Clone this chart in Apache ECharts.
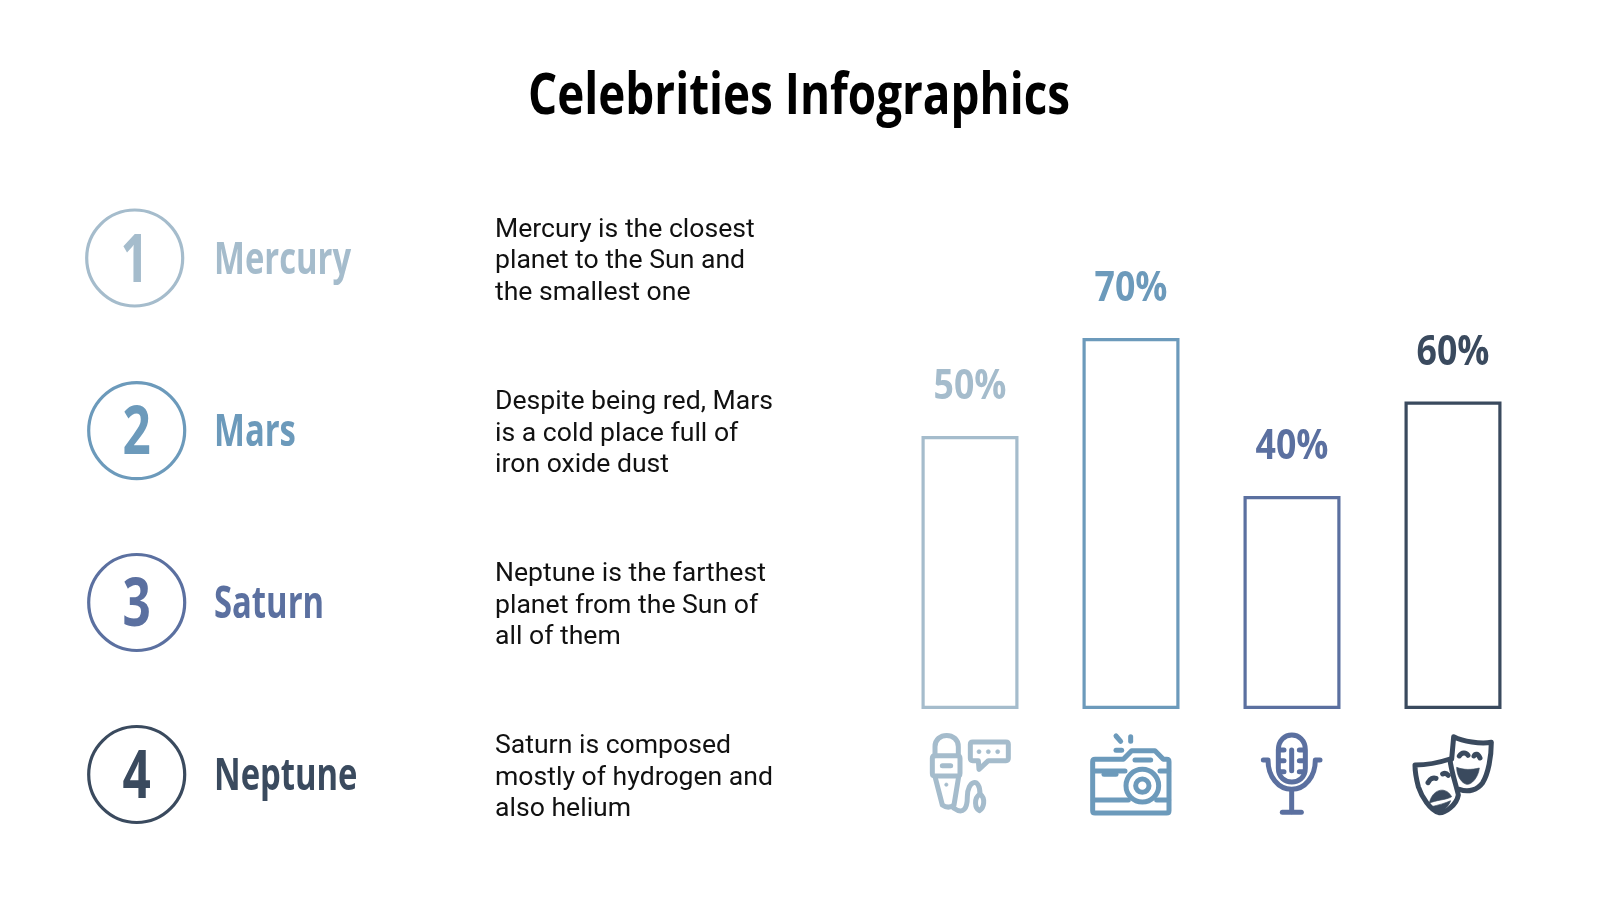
<!DOCTYPE html>
<html>
<head>
<meta charset="utf-8">
<title>Celebrities Infographics</title>
<style>
html,body{margin:0;padding:0;background:#fff;}
#chart{width:1600px;height:900px;}
</style>
<script src="https://cdn.jsdelivr.net/npm/echarts@6/dist/echarts.min.js"></script>
</head>
<body>
<div id="chart"></div>
<script>
var titleText = 'Celebrities Infographics';
var planets = ['Mercury', 'Mars', 'Saturn', 'Neptune'];
var numbers = ['1', '2', '3', '4'];
var descriptions = [
	['Mercury is the closest', 'planet to the Sun and', 'the smallest one'],
	['Despite being red, Mars', 'is a cold place full of', 'iron oxide dust'],
	['Neptune is the farthest', 'planet from the Sun of', 'all of them'],
	['Saturn is composed', 'mostly of hydrogen and', 'also helium']
];
var barCategories = ['Microphone', 'Camera', 'Studio mic', 'Masks'];
var barValues = [51.5, 70, 40.2, 58];   //drawn height, the picture does not follow its labels exactly
var barLabels = ['50%', '70%', '40%', '60%'];
var colors = ['#A5BCCC', '#6C9ABB', '#5B70A0', '#3A4A5E'];

//no extra condensed font here, so a bold face gets squeezed with scaleX
var heading = '"Open Sans", sans-serif';
var myChart = echarts.init(document.getElementById('chart'));

var graphics = [];

graphics.push({
	type: 'text', x: 799, y: 97, scaleX: 0.79,
	style: {text: titleText, fill: '#000', font: 'bold 58px ' + heading, textAlign: 'center', textVerticalAlign: 'middle'}
});

//left rows: circle, number, name, text
var circleX = [134.7, 136.7, 136.7, 136.7];
var circleY = [258, 430.6, 602.5, 774.5];
for (var i = 0; i < planets.length; i++) {
	graphics.push({
		type: 'circle',
		shape: {cx: circleX[i], cy: circleY[i], r: 48},
		style: {fill: 'none', stroke: colors[i], lineWidth: 3.2}
	});
	graphics.push({
		type: 'text', x: circleX[i], y: circleY[i] + 5, scaleX: 0.75,
		style: {text: numbers[i], fill: colors[i], font: 'bold 66px ' + heading, textAlign: 'center', textVerticalAlign: 'middle'}
	});
	graphics.push({
		type: 'text', x: 214, y: circleY[i] + 3, scaleX: 0.745,
		style: {text: planets[i], fill: colors[i], font: 'bold 44px ' + heading, textAlign: 'left', textVerticalAlign: 'middle'}
	});
	for (var j = 0; j < 3; j++) {
		graphics.push({
			type: 'text', x: 495, y: circleY[i] - 28 + j * 31.6,
			style: {text: descriptions[i][j], fill: '#111', font: '26.6px Roboto', textAlign: 'left', textVerticalAlign: 'middle'}
		});
	}
}

//icons, coordinates are 3x so they are scaled down in the group
var shapeCount = 0;
function pathShape(d) {
	var name = 'iconPath' + (shapeCount++);
	echarts.graphic.registerShape(name, echarts.graphic.extendPath(d, {}));
	return name;
}

function icon(originX, originY, color, strokes, fills) {
	var children = [];
	strokes.forEach(function (d) {
		children.push({type: pathShape(d), style: {fill: 'none', stroke: color, lineWidth: 15, lineCap: 'round', lineJoin: 'round'}});
	});
	fills.forEach(function (d) {
		children.push({type: pathShape(d), style: {fill: color, stroke: color, lineWidth: 2}});
	});
	graphics.push({type: 'group', x: originX, y: originY, scaleX: 1 / 3, scaleY: 1 / 3, children: children});
}

function dot(cx, cy, r) {
	return 'M' + (cx - r) + ' ' + cy + 'A' + r + ' ' + r + ' 0 1 1 ' + (cx + r) + ' ' + cy + 'A' + r + ' ' + r + ' 0 1 1 ' + (cx - r) + ' ' + cy + 'Z';
}

icon(880, 690, colors[0], [
	'M165 197V170C165 125 235 125 235 170V197',
	'M165 197H232Q240 197 240 205V250Q240 258 232 258H165Q157 258 157 250V205Q157 197 165 197Z',
	'M187 227H212',
	'M165 260L187 345Q205 358 222 345L236 260',
	'M222 355C250 375 262 355 262 320C262 270 300 260 300 312',
	'M300 312C318 325 312 355 298 362C285 355 280 325 300 312Z',
	'M278 156H378Q385 156 385 163V205Q385 212 378 212H325L297 238L295 212H278Q271 212 271 205V163Q271 156 278 156Z'
], [dot(297, 185, 6), dot(325, 185, 6), dot(353, 185, 6), dot(199, 284, 5)]);

icon(880, 690, colors[1], [
	'M645 208H730L755 182H825L850 208H860Q867 208 867 215V362Q867 369 860 369H645Q638 369 638 362V215Q638 208 645 208Z',
	'M640 243H735M840 243H866',
	'M640 330H745M830 330H866',
	'M672 253H708',
	'M765 210H812',
	'M708 138L722 154',
	'M752 140V154',
	'M708 181H725',
	dot(787, 287, 49),
	dot(787, 287, 20)
], []);

icon(1200, 690, colors[2], [
	'M235 180C235 120 316 120 316 180V235C316 290 235 290 235 235Z',
	'M275 180V242',
	'M240 180H252M240 212H252M240 245H252M298 180H311M298 212H311M298 245H311',
	'M190 210H204C204 260 235 298 275 298C315 298 346 260 346 210H360',
	'M275 300V365',
	'M247 367H304'
], []);

icon(1200, 690, colors[3], [
	'M755 207L761 140C790 155 840 162 874 157C874 200 865 250 848 278C832 300 805 308 778 298',
	'M645 225C680 225 720 217 750 207C752 240 770 290 775 315C770 345 735 370 717 368C690 360 665 320 655 290C647 260 645 240 645 225Z',
	'M778 198C785 186 798 186 804 196',
	'M822 198C826 190 834 190 840 204',
	'M684 278C690 265 700 262 708 265',
	'M728 252C735 248 740 250 745 256'
], [
	'M770 232C790 240 815 240 838 234C835 262 815 285 800 283C785 280 770 258 770 232Z',
	'M688 340C695 300 735 285 755 320C740 330 705 330 688 340Z',
	'M695 350C715 345 735 340 752 332C745 352 725 368 715 366C705 362 698 356 695 350Z'
]);

var barData = barValues.map(function (v, i) {
	return {
		value: v,
		itemStyle: {color: 'rgba(0,0,0,0)', borderColor: colors[i], borderWidth: 3.2}
	};
});

option = {
	animation: false,
	backgroundColor: '#fff',
	graphic: graphics,
	grid: {left: 889.5, width: 644, top: 179, height: 530},
	xAxis: {type: 'category', data: barCategories, show: false},
	yAxis: {type: 'value', min: 0, max: 100, show: false},
	series: [
		{
			type: 'bar',
			data: barData,
			barWidth: 97
		},
		{
			//percent labels, custom series only so they can be squeezed too
			type: 'custom',
			data: barValues.map(function (v, i) { return [i, v]; }),
			encode: {x: 0, y: 1},
			renderItem: function (params, api) {
				var pos = api.coord([api.value(0), api.value(1)]);
				return {
					type: 'text',
					x: pos[0],
					y: pos[1] - 49,
					scaleX: 0.85,
					style: {
						text: barLabels[params.dataIndex],
						fill: colors[params.dataIndex],
						font: 'bold 42px ' + heading,
						textAlign: 'center',
						textVerticalAlign: 'middle'
					}
				};
			}
		}
	]
};
myChart.setOption(option);
</script>
</body>
</html>
